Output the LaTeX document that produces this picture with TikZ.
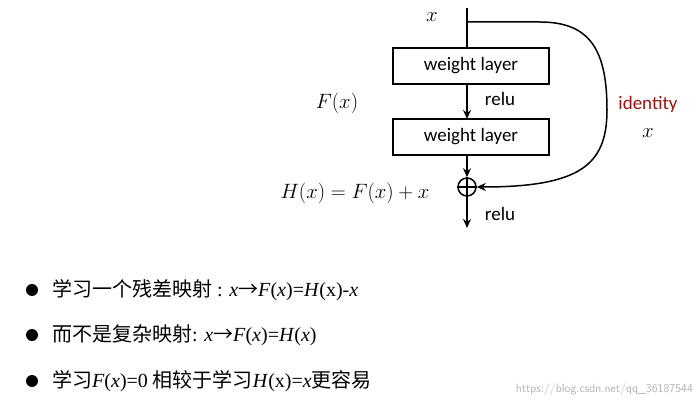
\documentclass[tikz,border=0pt]{standalone}
\usepackage{fontspec}
\setmainfont{Liberation Serif}
\newfontfamily\cjk{Noto Sans CJK SC}
\newfontfamily\carl{Carlito}
\usetikzlibrary{arrows.meta}
\definecolor{idred}{RGB}{150,20,20}
\newcommand{\ra}{{\cjk →}}
\begin{document}
\begin{tikzpicture}[x=1pt,y=-1pt,line width=1.5pt,
  wl/.style={draw,line width=1.5pt,minimum width=156pt,minimum height=36pt,font=\carl\fontsize{19}{19}\selectfont},
  arr/.style={line width=1.5pt,-{Stealth[length=9pt,width=8pt]}},
  lab/.style={font=\fontsize{21}{21}\selectfont},
  rl/.style={font=\carl\fontsize{19}{19}\selectfont},
  bul/.style={anchor=west,font=\fontsize{20}{20}\selectfont}]
\useasboundingbox (0,0) rectangle (699,409);
\node[lab] (xin) at (432,17) {$x$};
\coordinate (top) at (467,8);
\coordinate (split) at (467,22);
\node[wl] (b1) at (471,66) {weight layer};
\node[wl] (b2) at (471,137) {weight layer};
\node[draw,circle,inner sep=0pt,minimum size=18pt] (sum) at (467,187) {};
\draw (sum.north)--(sum.south) (sum.west)--(sum.east);
\coordinate (out) at (467,228);
\draw (top) -- (467,48);
\draw[arr] (467,84) -- (467,119);
\draw[arr] (467,155) -- (sum.north);
\draw[arr] (sum.south) -- (out);
\draw[arr] (split) -- (540,22) .. controls (590,22) and (607,50) .. (607,110)
  .. controls (607,165) and (580,187) .. (sum.east);
\node[rl] (r1) at (500,99) {relu};
\node[rl] (r2) at (500,214) {relu};
\node[rl,text=idred] (id) at (648,104) {identity};
\node[lab] (idx) at (648,133) {$x$};
\node[lab] (fx) at (337,103) {$F(x)$};
\node[lab] (hx) at (355,193) {$H(x)=F(x)+x$};
\foreach \y in {290,335,381}{\fill (32,\y) circle (6pt);}
\node[bul] (t1) at (48,290) {{\cjk 学习一个残差映射} : \textit{x}\ra\textit{F}(\textit{x})=\textit{H}(x)-\textit{x}};
\node[bul] (t2) at (48,335) {{\cjk 而不是复杂映射}: \textit{x}\ra\textit{F}(\textit{x})=\textit{H}(\textit{x})};
\node[bul] (t3) at (48,381) {{\cjk 学习}\textit{F}(\textit{x})=0 {\cjk 相较于学习}\textit{H}(x)=\textit{x}{\cjk 更容易}};
\node[anchor=east,text=gray!60,font=\sffamily\fontsize{12}{12}\selectfont] (wm) at (697,389) {https://blog.csdn.net/qq\_36187544};
\end{tikzpicture}
\end{document}
